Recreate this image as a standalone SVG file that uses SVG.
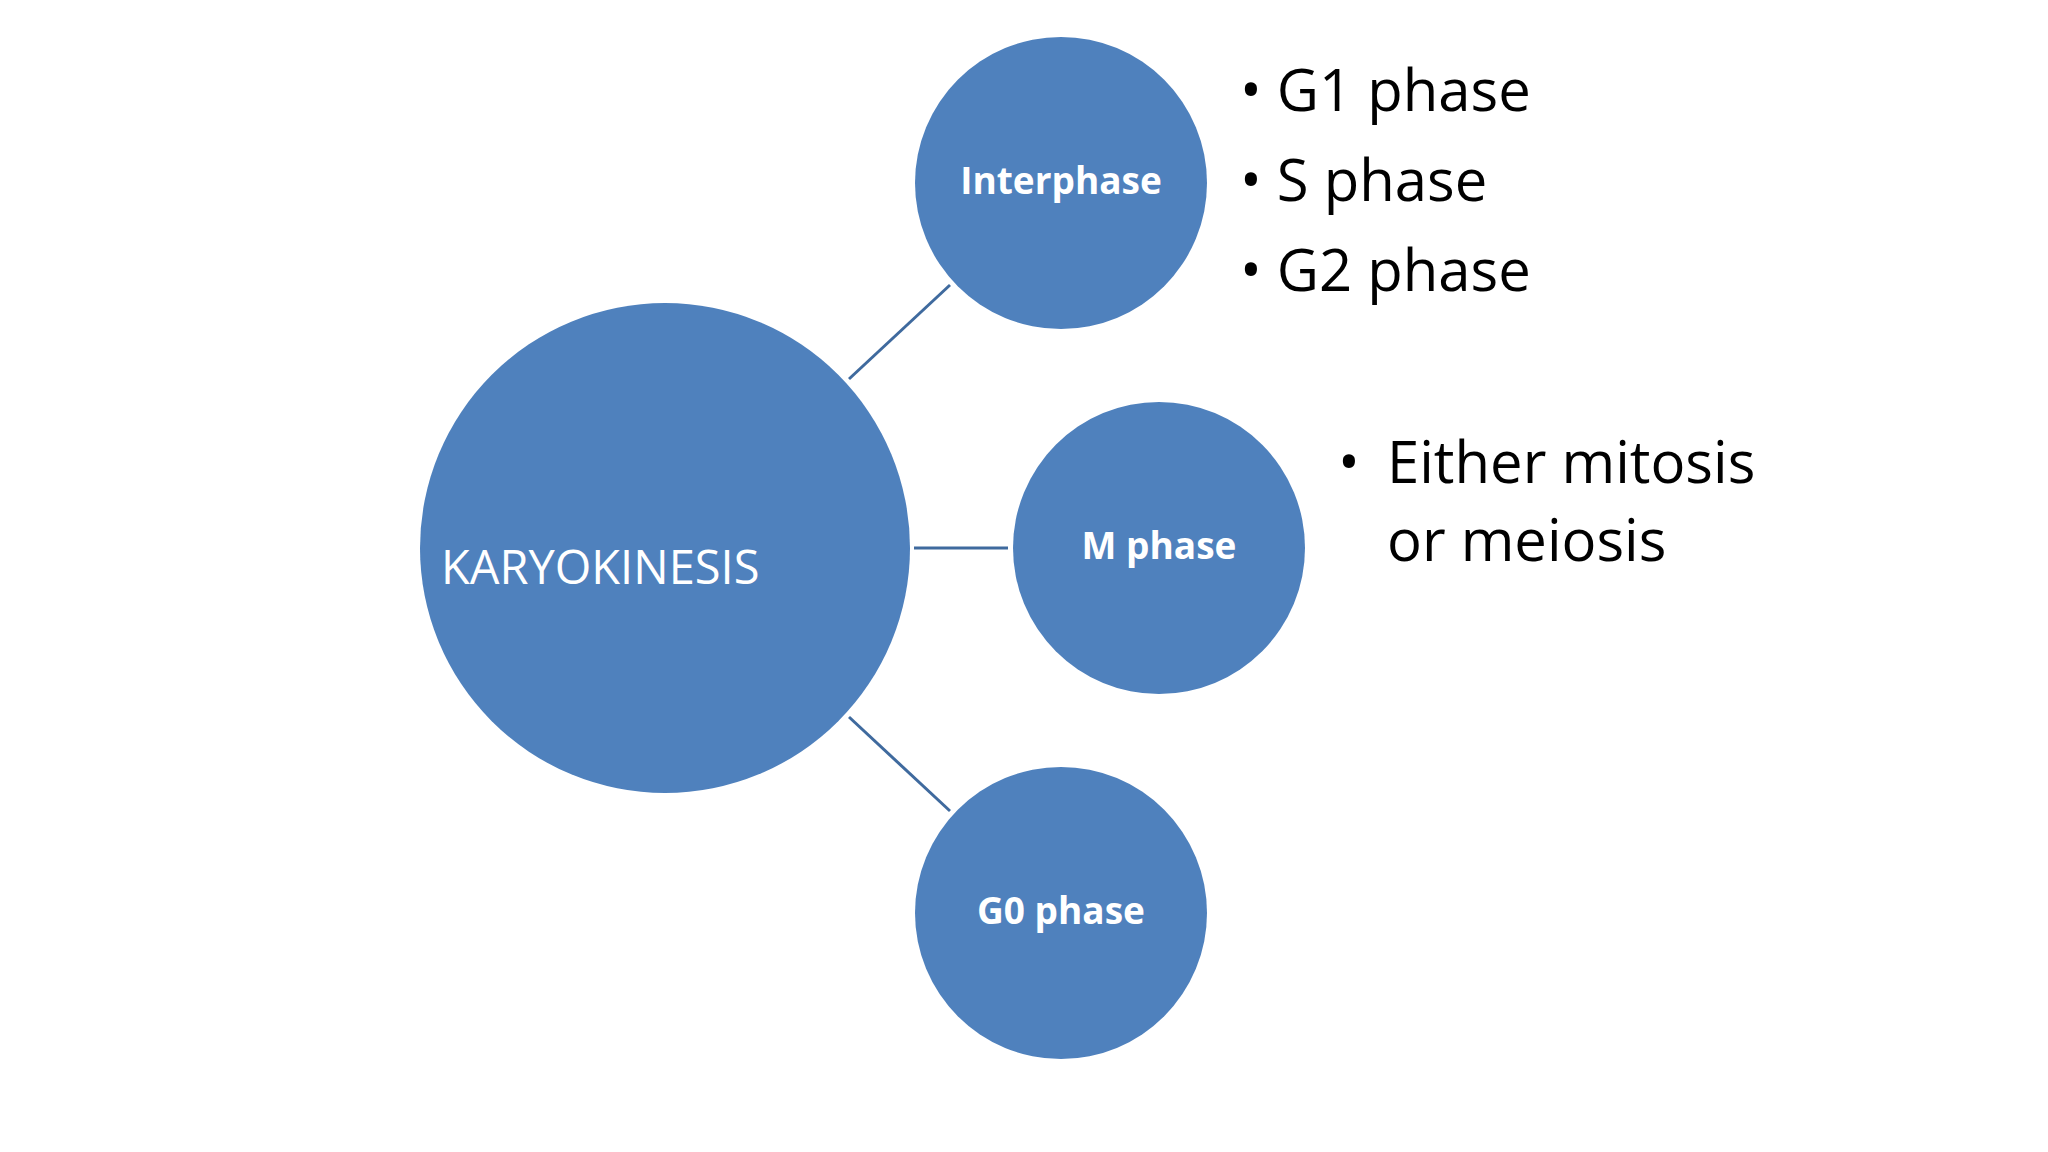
<svg xmlns="http://www.w3.org/2000/svg" width="2048" height="1152" viewBox="0 0 2048 1152">
<style>
.c{fill:#4f81bd}
.w{fill:#fff;font-family:"Open Sans",sans-serif;font-weight:bold;font-size:37px;text-anchor:middle}
.b{fill:#000;font-family:"Open Sans",sans-serif;font-size:58px}
.l{stroke:#3f6a9e;stroke-width:3;fill:none}
</style>
<rect width="2048" height="1152" fill="#fff"/>
<g id="connectors">
<line class="l" x1="849" y1="379" x2="950" y2="285"/>
<line class="l" x1="914" y1="548" x2="1008" y2="548"/>
<line class="l" x1="849" y1="717" x2="950" y2="811"/>
</g>
<g id="karyokinesis"><circle class="c" cx="665" cy="548" r="245"/>
<text x="441" y="584" fill="#fff" font-family="Open Sans, sans-serif" font-size="47">KARYOKINESIS</text></g>
<g id="interphase"><circle class="c" cx="1061" cy="183" r="146"/><text class="w" x="1061" y="194">Interphase</text></g>
<g id="mphase"><circle class="c" cx="1159" cy="548" r="146"/><text class="w" x="1159" y="559">M phase</text></g>
<g id="g0"><circle class="c" cx="1061" cy="913" r="146"/><text class="w" x="1061" y="924">G0 phase</text></g>
<g id="list1">
<text class="b" x="1240" y="111">• G1 phase</text>
<text class="b" x="1240" y="201">• S phase</text>
<text class="b" x="1240" y="291">• G2 phase</text>
</g>
<g id="list2">
<text class="b" x="1338" y="483">•</text>
<text class="b" x="1387" y="483">Either mitosis</text>
<text class="b" x="1387" y="561">or meiosis</text>
</g>
</svg>
